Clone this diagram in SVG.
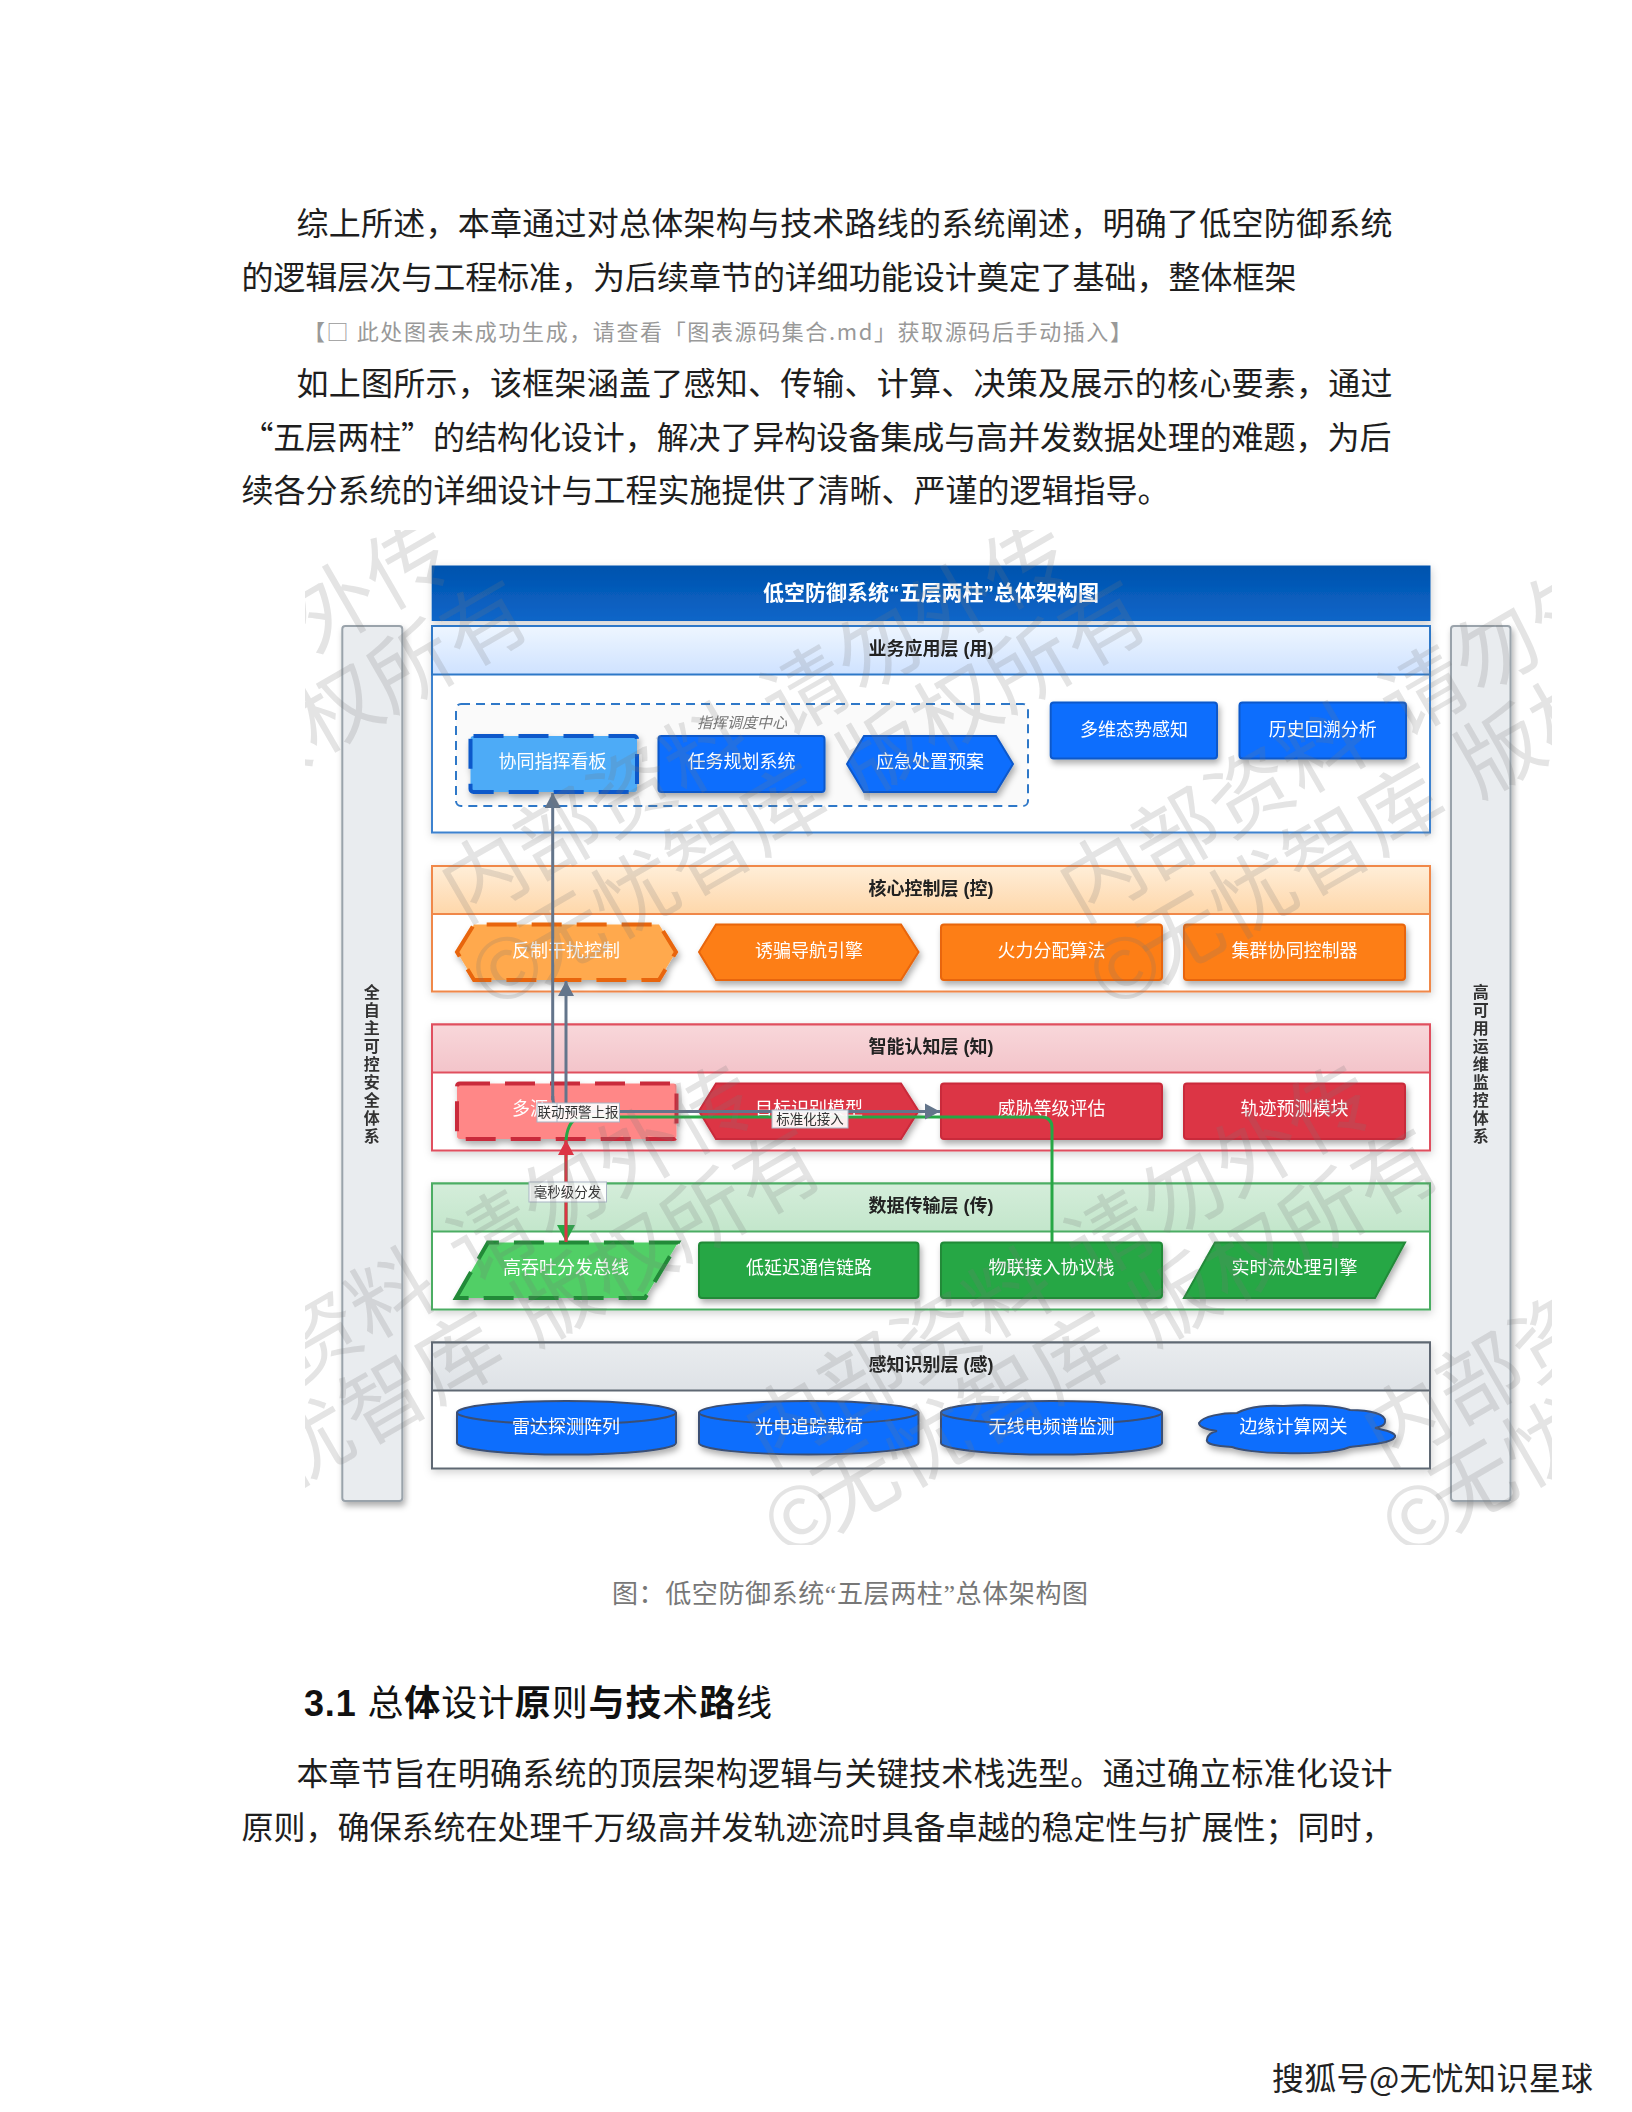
<svg xmlns="http://www.w3.org/2000/svg" xmlns:xlink="http://www.w3.org/1999/xlink" width="1632" height="2112" viewBox="0 0 1632 2112">
<style>
text{font-family:"Liberation Sans","Noto Sans CJK SC",sans-serif;dominant-baseline:central}
.p{font-family:"Noto Sans CJK SC",sans-serif;font-size:32px;fill:#1e1e1e}
.n{font-size:18px;fill:#fff;text-anchor:middle}
.h{font-size:18px;font-weight:bold;fill:#222;text-anchor:middle}
.v{font-size:16px;font-weight:bold;fill:#333;text-anchor:middle}
.l{font-size:13.5px;fill:#333;text-anchor:middle}
.lb{fill:#fff;fill-opacity:.92;stroke:#a9b4c4;stroke-width:1}
.body{fill:#fff;stroke-width:2;filter:url(#sh2)}
.head{stroke-width:2}
.s{filter:url(#sh)}
.bl{fill:#0d6efd;stroke:#0a58ca;stroke-width:2}
.or{fill:#fd7e14;stroke:#e8650a;stroke-width:2}
.re{fill:#dc3545;stroke:#c92a3a;stroke-width:2}
.gr{fill:#28a745;stroke:#208a39;stroke-width:2}
.d{stroke-width:4;stroke-dasharray:30 15}
.c{fill:none;stroke-width:3}
.cy{fill:#0d6efd;stroke:#3b4f74;stroke-width:2}
.cyt{fill:none;stroke:#3b4f74;stroke-width:2}
.wm{font-family:"Noto Sans CJK SC",sans-serif;font-size:84px;fill:#777;fill-opacity:.2;letter-spacing:1px;dominant-baseline:auto}
</style>
<defs>
<filter id="sh" x="-15%" y="-25%" width="130%" height="160%"><feDropShadow dx="2" dy="4" stdDeviation="3" flood-color="#000" flood-opacity=".32"/></filter>
<filter id="sh2" x="-3%" y="-10%" width="106%" height="125%"><feDropShadow dx="1" dy="3" stdDeviation="4" flood-color="#000" flood-opacity=".18"/></filter>
<filter id="soft" x="-2%" y="-2%" width="104%" height="104%"><feGaussianBlur stdDeviation="0.55"/></filter>
<linearGradient id="gT" x1="0" y1="0" x2="0" y2="1"><stop offset="0" stop-color="#0052ad"/><stop offset="1" stop-color="#0d66c9"/></linearGradient>
<linearGradient id="gB" x1="0" y1="0" x2="0" y2="1"><stop offset="0" stop-color="#eef6ff"/><stop offset="1" stop-color="#cfe2ff"/></linearGradient>
<linearGradient id="gO" x1="0" y1="0" x2="0" y2="1"><stop offset="0" stop-color="#ffeed8"/><stop offset="1" stop-color="#fed7aa"/></linearGradient>
<linearGradient id="gR" x1="0" y1="0" x2="0" y2="1"><stop offset="0" stop-color="#f8d7da"/><stop offset="1" stop-color="#f3c4ca"/></linearGradient>
<linearGradient id="gG" x1="0" y1="0" x2="0" y2="1"><stop offset="0" stop-color="#d4edda"/><stop offset="1" stop-color="#c3e6cb"/></linearGradient>
<linearGradient id="gS" x1="0" y1="0" x2="0" y2="1"><stop offset="0" stop-color="#e9ecef"/><stop offset="1" stop-color="#dee2e6"/></linearGradient>
<marker id="aS" markerUnits="userSpaceOnUse" markerWidth="18" markerHeight="18" refX="15" refY="9" orient="auto"><path d="M0 1L15 9L0 17z" fill="#64748b"/></marker>
<marker id="aR" markerUnits="userSpaceOnUse" markerWidth="18" markerHeight="18" refX="15" refY="9" orient="auto"><path d="M0 1L15 9L0 17z" fill="#dc3545"/></marker>
<marker id="aG" markerUnits="userSpaceOnUse" markerWidth="18" markerHeight="18" refX="17" refY="9" orient="auto"><path d="M0 0L17 9L0 18z" fill="#28a745"/></marker>
<clipPath id="wc"><rect x="305" y="530" width="1247" height="1015"/></clipPath>
<g id="w1"><text class="wm" transform="rotate(-30)" x="0" y="0">内部资料<tspan dx="30">请勿外传</tspan></text></g>
<g id="w2"><text class="wm" transform="rotate(-30)" x="0" y="0">©<tspan dx="-15">无忧智库</tspan><tspan dx="30">版权所有</tspan></text></g>
</defs>
<rect width="1632" height="2112" fill="#fff"/>
<g id="page-text-top">
<text class="p" x="296.5" y="221" textLength="1096">综上所述，本章通过对总体架构与技术路线的系统阐述，明确了低空防御系统</text>
<text class="p" x="241.4" y="275" textLength="1055">的逻辑层次与工程标准，为后续章节的详细功能设计奠定了基础，整体框架</text>
<text x="303" y="329.5" textLength="829" style="font-family:'Noto Sans CJK SC',sans-serif;font-size:22px;fill:#999">【□ 此处图表未成功生成，请查看「图表源码集合.md」获取源码后手动插入】</text>
<text class="p" x="296.5" y="381" textLength="1096">如上图所示，该框架涵盖了感知、传输、计算、决策及展示的核心要素，通过</text>
<text class="p" x="241.4" y="434.5" textLength="1150">“五层两柱”的结构化设计，解决了异构设备集成与高并发数据处理的难题，为后</text>
<text class="p" x="241.4" y="488" textLength="928">续各分系统的详细设计与工程实施提供了清晰、严谨的逻辑指导。</text>
</g>
<g id="diagram" filter="url(#soft)">
<g id="pillar-left"><rect class="s" x="342.300" y="626" width="60" height="875" rx="3" fill="#e9ecef" stroke="#9aa3ab" stroke-width="2"/>
<text class="v" x="371.700" y="992">全</text><text class="v" x="371.700" y="1010">自</text><text class="v" x="371.700" y="1028">主</text><text class="v" x="371.700" y="1046">可</text><text class="v" x="371.700" y="1064">控</text><text class="v" x="371.700" y="1082">安</text><text class="v" x="371.700" y="1100">全</text><text class="v" x="371.700" y="1118">体</text><text class="v" x="371.700" y="1136">系</text></g>
<g id="pillar-right"><rect class="s" x="1451" y="626" width="59.500" height="875" rx="3" fill="#e9ecef" stroke="#9aa3ab" stroke-width="2"/>
<text class="v" x="1480.700" y="992">高</text><text class="v" x="1480.700" y="1010">可</text><text class="v" x="1480.700" y="1028">用</text><text class="v" x="1480.700" y="1046">运</text><text class="v" x="1480.700" y="1064">维</text><text class="v" x="1480.700" y="1082">监</text><text class="v" x="1480.700" y="1100">控</text><text class="v" x="1480.700" y="1118">体</text><text class="v" x="1480.700" y="1136">系</text></g>
<g id="title"><rect x="431.700" y="565.500" width="998.800" height="55.500" fill="url(#gT)" filter="url(#sh2)"/><text x="931" y="592" style="font-size:21px;font-weight:bold;fill:#fff;text-anchor:middle">低空防御系统“五层两柱”总体架构图</text></g>
<g id="layer-app"><rect class="body" x="432" y="626" width="998" height="206.500" stroke="#3d82cf"/><rect class="head" x="432" y="626" width="998" height="48.500" fill="url(#gB)" stroke="#2f78c8"/><text class="h" x="931" y="648.500">业务应用层 (用)</text></g>
<g id="layer-ctl"><rect class="body" x="432" y="866" width="998" height="125.500" stroke="#f0884a"/><rect class="head" x="432" y="866" width="998" height="48" fill="url(#gO)" stroke="#f0884a"/><text class="h" x="931" y="888.500">核心控制层 (控)</text></g>
<g id="layer-ai"><rect class="body" x="432" y="1024.500" width="998" height="126" stroke="#e0505e"/><rect class="head" x="432" y="1024.500" width="998" height="48" fill="url(#gR)" stroke="#e0505e"/><text class="h" x="931" y="1046.500">智能认知层 (知)</text></g>
<g id="layer-net"><rect class="body" x="432" y="1183.500" width="998" height="126" stroke="#4cad64"/><rect class="head" x="432" y="1183.500" width="998" height="48" fill="url(#gG)" stroke="#4cad64"/><text class="h" x="931" y="1205.500">数据传输层 (传)</text></g>
<g id="layer-sense"><rect class="body" x="432" y="1342.500" width="998" height="126" stroke="#5f6873"/><rect class="head" x="432" y="1342.500" width="998" height="48" fill="url(#gS)" stroke="#5f6873"/><text class="h" x="931" y="1364.500">感知识别层 (感)</text></g>
<g id="group-command"><rect x="456" y="704" width="572" height="102" rx="5" fill="#fafafa" stroke="#2f78c8" stroke-width="2" stroke-dasharray="9 6"/><text x="742" y="722.500" style="font-size:15px;font-style:italic;fill:#777;text-anchor:middle">指挥调度中心</text></g>
<g id="n-board"><rect class="s d" x="470.500" y="736" width="166.500" height="56" rx="3" fill="#4dabf7" stroke="#0a58ca"/><text class="n" x="552.500" y="762">协同指挥看板</text></g>
<g id="n-plan"><rect class="bl s" x="658.500" y="736" width="166" height="56" rx="3"/><text class="n" x="741.500" y="762">任务规划系统</text></g>
<g id="n-emg"><path class="bl s" d="M847 764L864 736H996L1013 764L996 792H864z"/><text class="n" x="930" y="762">应急处置预案</text></g>
<g id="n-sit"><rect class="bl s" x="1050.700" y="702.500" width="166.300" height="56" rx="3"/><text class="n" x="1134" y="729.500">多维态势感知</text></g>
<g id="n-his"><rect class="bl s" x="1239.500" y="702.500" width="166.500" height="56" rx="3"/><text class="n" x="1322.700" y="729.500">历史回溯分析</text></g>
<g id="n-ecm"><path class="s d" d="M457 952L474 924.500H659L676 952L659 980H474z" fill="#ffa94d" stroke="#e8650a"/><text class="n" x="566" y="951">反制干扰控制</text></g>
<g id="n-decoy"><path class="or s" d="M699 952L716 924.500H901L918.500 952L901 980H716z"/><text class="n" x="809" y="951">诱骗导航引擎</text></g>
<g id="n-fire"><rect class="or s" x="941" y="924.500" width="221" height="55.500" rx="3"/><text class="n" x="1051.500" y="951">火力分配算法</text></g>
<g id="n-swarm"><rect class="or s" x="1184" y="924.500" width="221" height="55.500" rx="3"/><text class="n" x="1294.500" y="951">集群协同控制器</text></g>
<g id="n-fusion"><rect class="s d" x="457" y="1083.500" width="219.500" height="55.500" rx="3" fill="#ff8787" stroke="#c92a3a"/><text class="n" x="512" y="1109" style="text-anchor:start">多源</text></g>
<g id="n-target"><path class="re s" d="M699 1111L716 1083.500H901L918.500 1111L901 1139H716z"/><text class="n" x="809" y="1109">目标识别模型</text></g>
<g id="n-threat"><rect class="re s" x="941" y="1083.500" width="221" height="55.500" rx="3"/><text class="n" x="1051.500" y="1109">威胁等级评估</text></g>
<g id="n-track"><rect class="re s" x="1184" y="1083.500" width="221" height="55.500" rx="3"/><text class="n" x="1294.500" y="1109">轨迹预测模块</text></g>
<g id="n-bus"><path class="s d" d="M456 1298L488 1242.500H678L645 1298z" fill="#51cf66" stroke="#208a39"/><text class="n" x="566" y="1268">高吞吐分发总线</text></g>
<g id="n-low"><rect class="gr s" x="699" y="1242.500" width="219.500" height="55.500" rx="3"/><text class="n" x="809" y="1268">低延迟通信链路</text></g>
<g id="n-iot"><rect class="gr s" x="941" y="1242.500" width="221" height="55.500" rx="3"/><text class="n" x="1051.500" y="1268">物联接入协议栈</text></g>
<g id="n-stream"><path class="gr s" d="M1184 1298L1215 1242.500H1405L1375 1298z"/><text class="n" x="1294.500" y="1268">实时流处理引擎</text></g>
<g id="n-radar"><path class="cy s" d="M457 1412.500A109.500 11.500 0 0 1 676 1412.500V1443A109.500 11.500 0 0 1 457 1443z"/><path class="cyt" d="M457 1412.500A109.500 11.500 0 0 0 676 1412.500"/><text class="n" x="566" y="1427">雷达探测阵列</text></g>
<g id="n-eo"><path class="cy s" d="M699 1412.500A109.750 11.500 0 0 1 918.500 1412.500V1443A109.750 11.500 0 0 1 699 1443z"/><path class="cyt" d="M699 1412.500A109.750 11.500 0 0 0 918.500 1412.500"/><text class="n" x="809" y="1427">光电追踪载荷</text></g>
<g id="n-rf"><path class="cy s" d="M941 1412.500A110.500 11.500 0 0 1 1162 1412.500V1443A110.500 11.500 0 0 1 941 1443z"/><path class="cyt" d="M941 1412.500A110.500 11.500 0 0 0 1162 1412.500"/><text class="n" x="1051.500" y="1427">无线电频谱监测</text></g>
<g id="n-edge"><path class="cy s" d="M1199 1423C1203 1416 1222 1413 1237 1413C1250 1406 1270 1405 1283 1406C1310 1404 1340 1406 1350 1410C1370 1410 1387 1414 1385 1422C1385 1425 1380 1427 1375 1428C1385 1430 1397 1433 1395 1437C1392 1443 1370 1445 1350 1447C1335 1453 1305 1454 1283 1453C1260 1453 1240 1450 1232 1447C1215 1446 1205 1444 1207 1439C1208 1435 1212 1432 1217 1431C1210 1430 1199 1428 1199 1423z"/><text class="n" x="1293.500" y="1427">边缘计算网关</text></g>
<g id="connectors">
<path class="c" stroke="#28a745" d="M1052 1242V1128Q1052 1117 1041 1117H584Q568 1117 566 1140V1242" marker-end="url(#aG)"/>
<path class="c" stroke="#64748b" d="M552.700 1096Q552.700 1111.500 566 1111.500H940" marker-end="url(#aS)"/>
<path class="c" stroke="#64748b" d="M552.700 1100V793" marker-end="url(#aS)"/>
<path class="c" stroke="#64748b" d="M566 1104V981" marker-end="url(#aS)"/>
<path class="c" stroke="#dc3545" d="M566 1242V1140" marker-end="url(#aR)"/>
<g id="edge-labels">
<rect class="lb" x="537" y="1103" width="82.500" height="19"/><path d="M557 1103V1122" stroke="#a9b4c4" fill="none"/><text class="l" x="578" y="1112.500">联动预警上报</text>
<rect class="lb" x="772" y="1110" width="76" height="18"/><text class="l" x="810" y="1119">标准化接入</text>
<rect class="lb" x="529" y="1182" width="77.500" height="20"/><text class="l" x="567.500" y="1192">毫秒级分发</text>
</g>
</g>
</g>
<g id="watermark" clip-path="url(#wc)">
<use xlink:href="#w1" href="#w1" x="-155" y="923.500"/><use xlink:href="#w1" href="#w1" x="463" y="923.500"/><use xlink:href="#w1" href="#w1" x="1081" y="923.500"/>
<use xlink:href="#w1" href="#w1" x="149" y="1468.500"/><use xlink:href="#w1" href="#w1" x="767" y="1468.500"/><use xlink:href="#w1" href="#w1" x="1385" y="1468.500"/>
<use xlink:href="#w2" href="#w2" x="-126" y="1011.500"/><use xlink:href="#w2" href="#w2" x="492" y="1011.500"/><use xlink:href="#w2" href="#w2" x="1110" y="1011.500"/>
<use xlink:href="#w2" href="#w2" x="167" y="1560"/><use xlink:href="#w2" href="#w2" x="785" y="1560"/><use xlink:href="#w2" href="#w2" x="1403" y="1560"/>
</g>
<g id="page-text-bottom">
<text x="612" y="1594" textLength="476" style="font-family:'Liberation Serif','Noto Sans CJK SC',sans-serif;font-size:26px;fill:#777">图：低空防御系统“五层两柱”总体架构图</text>
<text x="304" y="1703" textLength="468" style="font-family:'Liberation Sans','Noto Sans CJK SC',sans-serif;font-size:36px;fill:#111"><tspan font-weight="bold">3.1 </tspan>总<tspan font-weight="bold">体</tspan>设计<tspan font-weight="bold">原</tspan>则<tspan font-weight="bold">与技</tspan>术<tspan font-weight="bold">路</tspan>线</text>
<text class="p" x="296.5" y="1771" textLength="1096">本章节旨在明确系统的顶层架构逻辑与关键技术栈选型。通过确立标准化设计</text>
<text class="p" x="241.4" y="1825" textLength="1152">原则，确保系统在处理千万级高并发轨迹流时具备卓越的稳定性与扩展性；同时，</text>
<text x="1272" y="2076" textLength="321" style="font-family:'Noto Sans CJK SC',sans-serif;font-size:32px;fill:#222">搜狐号@无忧知识星球</text>
</g>
</svg>
